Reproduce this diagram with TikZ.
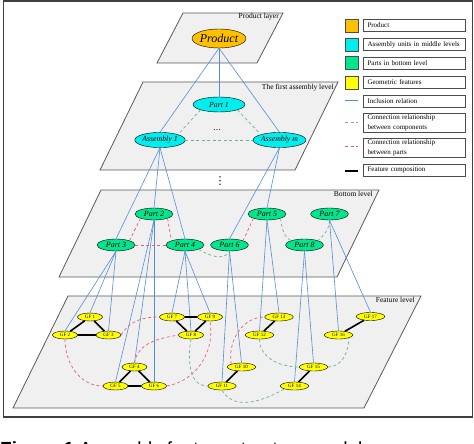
\documentclass[tikz,border=0pt]{standalone}
\usepackage{fontspec}
\setmainfont{Liberation Serif}
\newfontfamily\capfont{Liberation Sans}
\newfontfamily\dotfont{DejaVu Sans}
\usepackage{tikz}
\usetikzlibrary{shapes}
\usetikzlibrary{topaths}
\definecolor{prodorange}{RGB}{255,192,0}
\definecolor{asmcyan}{RGB}{0,238,238}
\definecolor{partgreen}{RGB}{0,230,140}
\definecolor{gfyellow}{RGB}{255,255,0}
\definecolor{inclblue}{RGB}{84,141,212}
\definecolor{compgreen}{RGB}{110,175,150}
\definecolor{partred}{RGB}{222,98,110}
\definecolor{planegray}{RGB}{240,240,240}
\tikzstyle{plane}=[draw=black!65,fill=planegray,line width=0.8pt]
\tikzstyle{lvl}=[anchor=east,inner sep=0mm,font=\fontsize{7.5}{8}\selectfont]
\tikzstyle{prod}=[ellipse,draw=black,fill=prodorange,inner sep=0mm,minimum width=52,minimum height=19,font=\itshape\fontsize{12}{12}\selectfont]
\tikzstyle{asm}=[ellipse,draw=black,fill=asmcyan,inner xsep=0.2pt,inner ysep=1.8pt,minimum height=15,font=\itshape\fontsize{7.8}{8}\selectfont]
\tikzstyle{part}=[ellipse,draw=black,fill=partgreen,inner xsep=3.3pt,inner ysep=1.5pt,minimum height=12,font=\itshape\fontsize{8}{8}\selectfont]
\tikzstyle{GF}=[ellipse,draw=black,fill=gfyellow,inner xsep=3.8pt,inner ysep=1.1pt,minimum height=8,font=\fontsize{5}{5}\selectfont]
\tikzstyle{incl}=[draw=inclblue,line width=0.6pt]
\tikzstyle{conncomp}=[draw=compgreen,dash pattern=on 3pt off 2.5pt,line width=0.7pt]
\tikzstyle{connpart}=[draw=partred,dash pattern=on 3pt off 2.5pt,line width=0.7pt]
\tikzstyle{featcomp}=[draw=black,line width=1.6pt]
\tikzstyle{swatch}=[draw=black!70,minimum width=13,minimum height=13,inner sep=0mm]
\tikzstyle{keybox}=[draw=black!70,anchor=west,text width=94,inner xsep=4pt,inner ysep=0.5pt,minimum height=12.3,align=left,font=\fontsize{7}{9.5}\selectfont]
\begin{document}
\begin{tikzpicture}[x=1pt,y=-1pt]
      \useasboundingbox (0,0) rectangle (474,444);
      \draw[black!75,line width=1.5pt] (3.5,0.8) rectangle (472.5,417);
      \draw[plane] (183,13) -- (283,13) -- (257,63) -- (157,63) -- cycle;
      \draw[plane] (143,82) -- (338,82) -- (295,170) -- (100,170) -- cycle;
      \draw[plane] (101,190) -- (379,190) -- (337,277) -- (59,277) -- cycle;
      \draw[plane] (68,296) -- (421,296) -- (364,408) -- (13,408) -- cycle;
      \node[lvl] at (279,17) (Lprod) {Product layer};
      \node[lvl] at (334,88) (Lasm) {The first assembly level};
      \node[lvl] at (373,194) (Lbot) {Bottom level};
      \node[lvl] at (415,300) (Lfeat) {Feature level};
      \node[prod] at (219,38.5) (Prod) {Product};
      \node[asm,minimum width=52] at (219,104.5) (P1) {Part 1};
      \node[asm] at (160,140) (A1) {Assembly 1};
      \node[asm] at (279.5,140) (Am) {Assembly m};
      \node[inner sep=0mm,font=\dotfont\fontsize{8}{8}\selectfont] at (217,131) (hdots) {⋯};
      \node[inner sep=0mm,font=\dotfont\fontsize{11}{11}\selectfont] at (220,181) (vdots) {⋮};
      \node[part] at (154,214) (P2) {Part 2};
      \node[part] at (267,214) (P5) {Part 5};
      \node[part] at (329.5,214) (P7) {Part 7};
      \node[part] at (116,245) (P3) {Part 3};
      \node[part] at (185,245) (P4) {Part 4};
      \node[part] at (229.5,245) (P6) {Part 6};
      \node[part] at (304.5,245) (P8) {Part 8};
      \node[GF] at (90,317) (GF1) {GF 1};
      \node[GF] at (65,335) (GF2) {GF 2};
      \node[GF] at (108.5,335) (GF3) {GF 3};
      \node[GF] at (134.5,367) (GF4) {GF 4};
      \node[GF] at (115.5,386) (GF5) {GF 5};
      \node[GF] at (154,386) (GF6) {GF 6};
      \node[GF] at (172,317) (GF7) {GF 7};
      \node[GF] at (191,335) (GF8) {GF 8};
      \node[GF] at (210,317) (GF9) {GF 9};
      \node[GF] at (241.5,367) (GF10) {GF 10};
      \node[GF] at (222,386) (GF11) {GF 11};
      \node[GF] at (259.5,335) (GF12) {GF 12};
      \node[GF] at (279,317) (GF13) {GF 13};
      \node[GF] at (294.5,386) (GF14) {GF 14};
      \node[GF] at (313.5,367) (GF15) {GF 15};
      \node[GF] at (338.5,335) (GF16) {GF 16};
      \node[GF] at (370.5,316.5) (GF17) {GF 17};
      \draw[incl] (Prod.south) -- (P1.north);
      \draw[incl] (Prod.south) -- (A1.north);
      \draw[incl] (Prod.south) -- (Am.north);
      \draw[conncomp] (P1.south west) -- (A1.north east);
      \draw[conncomp] (P1.south east) -- (Am.north west);
      \draw[conncomp] (A1) -- (Am);
      \draw[incl] (A1.south) -- (P3.north);
      \draw[incl] (A1.south) -- (P2.north);
      \draw[incl] (A1.south) -- (P4.north);
      \draw[incl] (Am.south) -- (P6.north);
      \draw[incl] (Am.south) -- (P5.north);
      \draw[connpart] (P2.south west) -- (P3.north east);
      \draw[connpart] (P2.south east) -- (P4.north west);
      \draw[connpart] (P3) -- (P4);
      \draw[connpart] (P5.south west) -- (P6.north east);
      \draw[conncomp] (P4.south east) to[out=-30,in=-120] (P6.south);
      \draw[conncomp] (P5.south east) to[out=-80,in=150] (P8.north west);
      \draw[conncomp] (P7.south) to[out=-90,in=45] (P8.north east);
      \draw[incl] (P3.south) -- (GF1.north);
      \draw[incl] (P3.south) -- (GF2.north);
      \draw[incl] (P3.south) -- (GF3.north);
      \draw[incl] (P2.south) -- (GF4.north);
      \draw[incl] (P2.south) -- (GF5.north);
      \draw[incl] (P2.south) -- (GF6.north);
      \draw[incl] (P4.south) -- (GF7.north);
      \draw[incl] (P4.south) -- (GF8.north);
      \draw[incl] (P4.south) -- (GF9.north);
      \draw[incl] (P6.south) -- (GF10.north);
      \draw[incl] (P6.south) -- (GF11.north);
      \draw[incl] (P5.south) -- (GF12.north);
      \draw[incl] (P5.south) -- (GF13.north);
      \draw[incl] (P8.south) -- (GF14.north);
      \draw[incl] (P8.south) -- (GF15.north);
      \draw[incl] (P7.south) -- (GF16.north);
      \draw[incl] (P7.south) -- (GF17.north);
      \draw[featcomp] (GF1) -- (GF2) -- (GF3) -- (GF1);
      \draw[featcomp] (GF4) -- (GF5) -- (GF6) -- (GF4);
      \draw[featcomp] (GF7) -- (GF8) -- (GF9) -- (GF7);
      \draw[featcomp] (GF10) -- (GF11);
      \draw[featcomp] (GF12) -- (GF13);
      \draw[featcomp] (GF14) -- (GF15);
      \draw[featcomp] (GF16) -- (GF17);
      \draw[connpart] (GF2.south) to[out=-90,in=180] (GF5.west);
      \draw[connpart] (GF3.east) to[out=60,in=180] (GF7.west);
      \draw[connpart] (GF4.north) to[out=80,in=190] (GF8.west);
      \draw[connpart] (GF6.east) to[out=10,in=-80] (GF9.south);
      \draw[connpart] (GF10.north west) to[out=100,in=180] (GF13.west);
      \draw[conncomp] (GF8.south) to[out=-100,in=180] (GF11.west);
      \draw[conncomp] (GF11.south) to[out=-60,in=-150] (GF14.south west);
      \draw[conncomp] (GF12.south) to[out=-90,in=180] (GF15.west);
      \draw[conncomp] (GF15.east) to[out=0,in=-90] (GF16.south east);
      \node[swatch,fill=prodorange] at (351.5,25.5) (kProd) {};
      \node[swatch,fill=asmcyan] at (351.5,44.7) (kAsm) {};
      \node[swatch,fill=partgreen] at (351.5,63) (kPart) {};
      \node[swatch,fill=gfyellow] at (351.5,82.3) (kGF) {};
      \draw[incl] (345,100.7) -- (358,100.7);
      \draw[conncomp] (345,122.7) -- (358,122.7);
      \draw[connpart] (345,146.7) -- (358,146.7);
      \draw[featcomp] (345,170.7) -- (358,170.7);
      \node[keybox] at (363.3,25) (tProd) {Product};
      \node[keybox] at (363.3,44.5) (tAsm) {Assembly units in middle levels};
      \node[keybox] at (363.3,63) (tPart) {Parts in bottom level};
      \node[keybox] at (363.3,82.2) (tGF) {Geometric features};
      \node[keybox] at (363.3,101.2) (tIncl) {Inclusion relation};
      \node[keybox,minimum height=19] at (363.3,122.8) (tComp) {Connection relationship\\between components};
      \node[keybox,minimum height=19] at (363.3,147.8) (tConn) {Connection relationship\\between parts};
      \node[keybox] at (363.3,170.4) (tFeat) {Feature composition};
      \node[anchor=north west,inner sep=0mm,font=\capfont\fontsize{19}{19}\selectfont] at (0,442) (cap) {\textbf{Figure 1} Assembly feature structure model};
\end{tikzpicture}
\end{document}
